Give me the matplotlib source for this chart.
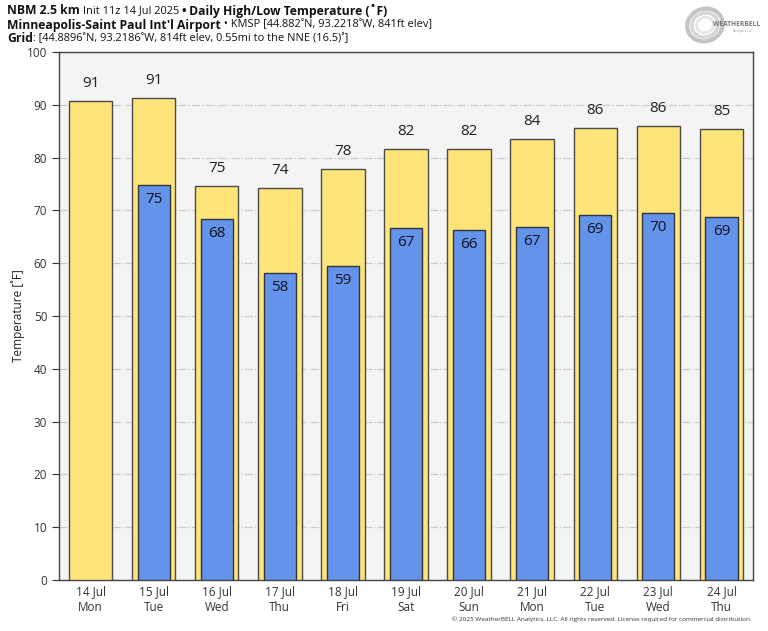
import matplotlib
matplotlib.use("Agg")
import matplotlib.pyplot as plt
from matplotlib.patches import Ellipse

plt.rcParams['font.family'] = ['Open Sans', 'DejaVu Sans']

dates = ["14 Jul", "15 Jul", "16 Jul", "17 Jul", "18 Jul", "19 Jul", "20 Jul",
         "21 Jul", "22 Jul", "23 Jul", "24 Jul"]
days = ["Mon", "Tue", "Wed", "Thu", "Fri", "Sat", "Sun", "Mon", "Tue", "Wed", "Thu"]
highs = [90.7, 91.3, 74.6, 74.3, 77.8, 81.6, 81.7, 83.6, 85.7, 86.0, 85.4]
lows = [None, 74.8, 68.3, 58.2, 59.4, 66.7, 66.3, 66.9, 69.2, 69.6, 68.8]

W, H = 768, 631
fig = plt.figure(figsize=(W / 100, H / 100), dpi=100)
ax = fig.add_axes([59 / W, (H - 580) / H, 694 / W, 528 / H])
ax.set_facecolor("#f4f4f4")

x = list(range(len(dates)))
edge = "#4a4a4a"
ax.bar(x, highs, width=0.69, color="#ffe47a", edgecolor=edge, linewidth=1.0, zorder=3)
lx = [i for i, v in zip(x, lows) if v is not None]
lv = [v for v in lows if v is not None]
ax.bar(lx, lv, width=0.51, color="#6494ea", edgecolor="#2f3340", linewidth=1.0, zorder=4)

for i, v in zip(x, highs):
    ax.annotate(f"{round(v)}", (i, v), xytext=(0, 12.5), textcoords="offset points",
                ha="center", va="center", fontsize=11, color="#222222", zorder=5)
for i, v in zip(lx, lv):
    ax.annotate(f"{round(v)}", (i, v), xytext=(0, -10.5), textcoords="offset points",
                ha="center", va="center", fontsize=11, color="#111122", zorder=5)

ax.set_xlim(-0.5, len(dates) - 0.5)
ax.set_ylim(0, 100)
ax.set_yticks(range(0, 101, 10))
ax.set_xticks(x)
ax.set_xticklabels([f"{d}\n{w}" for d, w in zip(dates, days)], fontsize=8.5, color="#333333",
                   linespacing=1.25)
ax.tick_params(axis="x", length=0, pad=4)
ax.tick_params(axis="y", length=5, labelsize=8.5, colors="#333333", width=0.8)
ax.grid(axis="y", linestyle="-.", color="#cccccc", linewidth=0.9, zorder=0)
for s in ax.spines.values():
    s.set_color("#444444")
    s.set_linewidth(1.0)
ax.set_ylabel("Temperature [˚F]", fontsize=8.5, color="#222222", labelpad=1)

# Header with mixed weights
renderer = fig.canvas.get_renderer()

def line(parts, y_px, x_px=7):
    xp = x_px
    for txt, wt in parts:
        fs = 8.7 if wt == "bold" else 7.9
        t = fig.text(xp / W, 1 - y_px / H, txt, fontsize=fs, fontweight=wt,
                     va="center", ha="left", color="#111111")
        bb = t.get_window_extent(renderer=renderer)
        xp += bb.width

line([("NBM 2.5 km", "bold"), (" Init 11z 14 Jul 2025 ", "normal"), ("•", "bold"),
      (" Daily High/Low Temperature (˚F)", "bold")], 11)
line([("Minneapolis-Saint Paul Int'l Airport", "bold"), (" • KMSP [44.882˚N, 93.2218˚W, 841ft elev]", "normal")], 25)
line([("Grid", "bold"), (": [44.8896˚N, 93.2186˚W, 814ft elev, 0.55mi to the NNE (16.5)˚]", "normal")], 39)

# Logo approximation
lax = fig.add_axes([683 / W, 1 - 46 / H, 78 / W, 42 / H])
lax.set_xlim(0, 78)
lax.set_ylim(0, 42)
lax.axis("off")
for r, c, lw in [(19, "#c4c4c4", 3), (14, "#d6d6d6", 2.5), (9, "#e6e6e6", 2)]:
    lax.add_patch(Ellipse((22, 21), r * 1.9, r * 1.7, angle=20, fill=False,
                          edgecolor=c, linewidth=lw))
lax.text(30, 22, "WEATHERBELL", fontsize=4.8, color="#777777", fontweight="bold", va="center")
lax.text(50, 15, "Analytics LLC", fontsize=2.3, color="#999999", va="center")

fig.text(752 / W, 1 - 619 / H,
         "© 2025 WeatherBELL Analytics, LLC. All rights reserved. License required for commercial distribution.",
         fontsize=4.6, ha="right", va="center", color="#333333")

fig.savefig("out.png", dpi=100, facecolor="white")
